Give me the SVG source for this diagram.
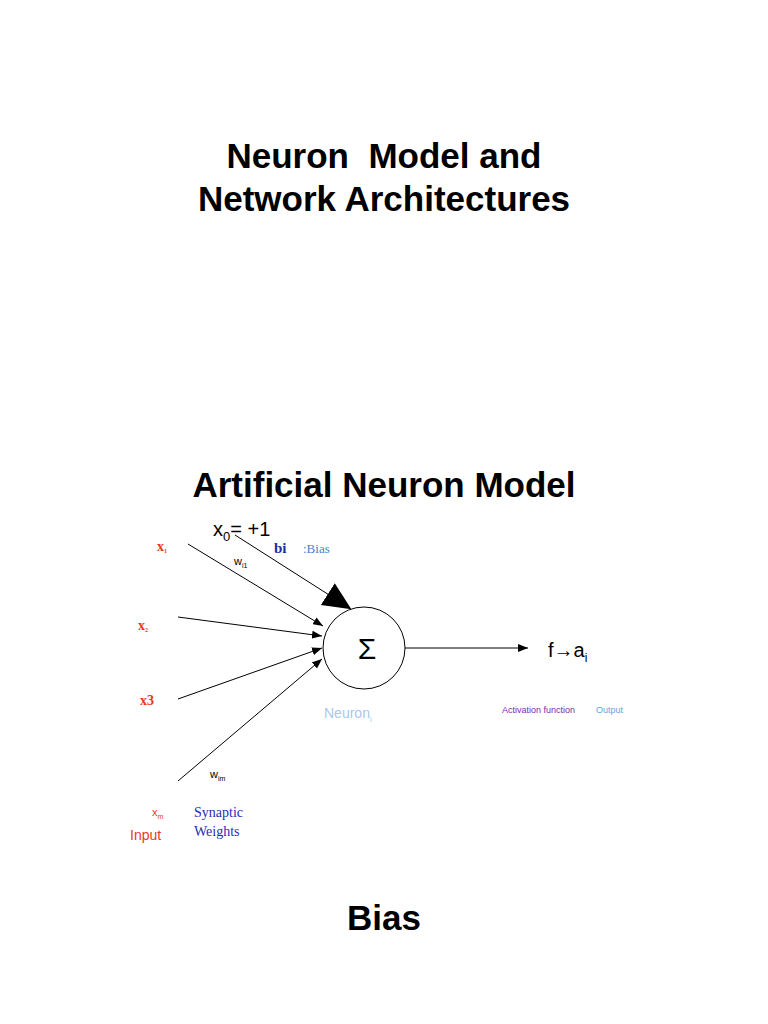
<svg xmlns="http://www.w3.org/2000/svg" width="768" height="1024" viewBox="0 0 768 1024">
<defs>
<style>
.t{font-family:"Liberation Sans",Arial,sans-serif}
.s{font-family:"Liberation Serif","Times New Roman",serif}
.h{font-family:"Liberation Sans",Arial,sans-serif;font-weight:bold;font-size:35px;text-anchor:middle}
.l{stroke:#000;stroke-width:1;fill:none}
</style>
<marker id="a" markerWidth="10" markerHeight="8" refX="10" refY="4" orient="auto" markerUnits="userSpaceOnUse"><path d="M0,0L10,4L0,8z"/></marker>
<marker id="b" markerWidth="28" markerHeight="26" refX="24" refY="13" orient="auto" markerUnits="userSpaceOnUse"><path d="M0,0L28,13L0,26z"/></marker>
</defs>
<rect width="768" height="1024" fill="#fff"/>
<text class="h" x="384" y="168" xml:space="preserve">Neuron  Model and</text>
<text class="h" x="384" y="211">Network Architectures</text>
<text class="h" x="384" y="497">Artificial Neuron Model</text>
<text class="h" x="384" y="930">Bias</text>
<g id="connectors">
<line class="l" x1="188" y1="544" x2="323" y2="626" marker-end="url(#a)"/>
<line class="l" x1="178" y1="617" x2="322" y2="636" marker-end="url(#a)"/>
<line class="l" x1="178" y1="699" x2="322" y2="648" marker-end="url(#a)"/>
<line class="l" x1="178" y1="781" x2="322" y2="659" marker-end="url(#a)"/>
<line class="l" x1="235" y1="535" x2="348" y2="607" marker-end="url(#b)"/>
<line class="l" x1="405" y1="648" x2="528" y2="648" marker-end="url(#a)"/>
</g>
<g id="neuron">
<circle cx="364" cy="648" r="41" fill="#fff" stroke="#000"/>
<text class="t" x="367" y="659" font-size="30" text-anchor="middle">Σ</text>
<text class="t" x="324" y="718" font-size="14" fill="#a8c8ec">Neuron<tspan font-size="8" dy="4">i</tspan></text>
</g>
<g id="x0"><text class="t" x="213" y="536" font-size="20">x<tspan font-size="13" dy="5">0</tspan><tspan dy="-5">= +1</tspan></text></g>
<g id="bias"><text class="s" x="274" y="553" font-size="15" font-weight="bold" fill="#1c2fa8">bi</text><text class="s" x="303" y="553" font-size="13" fill="#4a7ed0">:Bias</text></g>
<g id="x1"><text class="s" x="157" y="551" font-size="14" font-weight="bold" fill="#e83a1a">x<tspan font-size="6" dy="2">1</tspan></text></g>
<g id="x2"><text class="s" x="138" y="630" font-size="14" font-weight="bold" fill="#e83a1a">x<tspan font-size="6" dy="2">2</tspan></text></g>
<g id="x3"><text class="s" x="140" y="705" font-size="14" font-weight="bold" fill="#e83a1a">x3</text></g>
<g id="xm"><text class="t" x="152" y="816" font-size="11" fill="#e83a1a">x<tspan font-size="7" dy="3">m</tspan></text><text class="t" x="130" y="840" font-size="14" fill="#e83a1a">Input</text></g>
<text class="t" x="234" y="565" font-size="11">w<tspan font-size="7" dy="3">i1</tspan></text>
<text class="t" x="210" y="778" font-size="11">w<tspan font-size="7" dy="3">im</tspan></text>
<g id="weights"><text class="s" x="194" y="817" font-size="14" fill="#2a2ab8">Synaptic</text><text class="s" x="194" y="836" font-size="14" fill="#2a2ab8">Weights</text></g>
<g id="output"><text class="t" x="548" y="657" font-size="20">f→a<tspan font-size="12" dy="5">i</tspan></text></g>
<text class="t" x="502" y="713" font-size="9" fill="#7a2ab0">Activation function</text>
<text class="t" x="596" y="713" font-size="9" fill="#6aa0e0">Output</text>
</svg>
